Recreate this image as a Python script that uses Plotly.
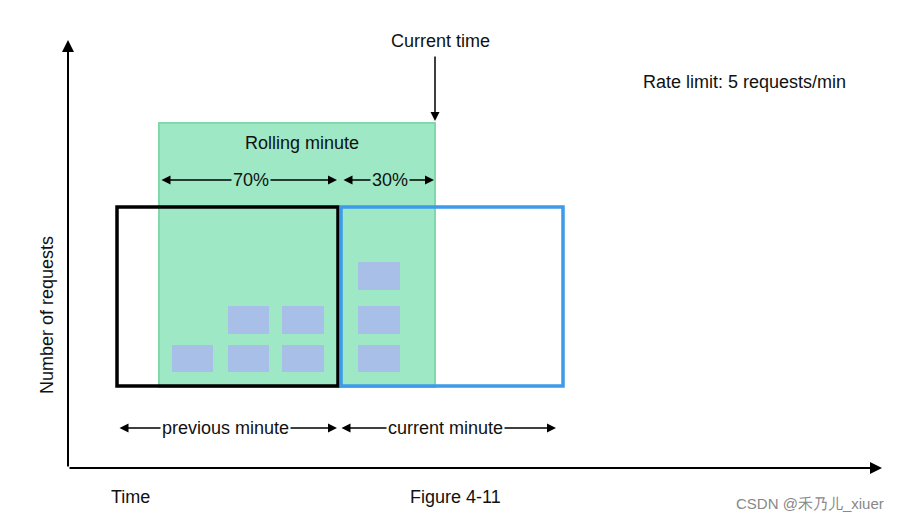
import plotly.graph_objects as go

# request blocks (pixel-space coordinates of the diagram)
req_x0 = [172, 228, 228, 282, 282, 358, 358, 358]
req_x1 = [213, 269, 269, 324, 324, 400, 400, 400]
req_y0 = [345, 306, 345, 306, 345, 262, 306, 345]
req_y1 = [372, 334, 372, 334, 372, 290, 334, 372]

W, H = 918, 523
OFF = 8  # page body margin
fig = go.Figure()
fig.add_trace(go.Scatter(x=[0, W], y=[0, H], mode="markers", marker=dict(opacity=0), hoverinfo="skip", showlegend=False))

shapes = []
shapes.append(dict(type="rect", x0=159, x1=435, y0=123, y1=387, fillcolor="#9ee8c6", line=dict(color="#7fd9ab", width=2), layer="below"))
for a, b, c, d in zip(req_x0, req_x1, req_y0, req_y1):
    shapes.append(dict(type="rect", x0=a, x1=b, y0=c, y1=d, fillcolor="#a8bfe8", line=dict(width=0)))
shapes.append(dict(type="rect", x0=117, x1=338, y0=207, y1=386, line=dict(color="black", width=3.5)))
shapes.append(dict(type="rect", x0=341, x1=563, y0=207, y1=386, line=dict(color="#3d9be9", width=3.5)))
fig.update_layout(shapes=shapes)

ann = []
def arrow(x0, y0, x1, y1, both=False, w=1.5):
    ann.append(dict(x=x1, y=y1, ax=x0, ay=y0, xref="x", yref="y", axref="x", ayref="y", text="",
                    showarrow=True, arrowhead=2, arrowsize=1.2, arrowwidth=w, arrowcolor="black",
                    arrowside="end+start" if both else "end", startarrowhead=2, startarrowsize=1.2))
arrow(68, 468, 68, 40, w=2)
arrow(68, 468, 882, 468, w=2)
arrow(435, 55, 435, 121)
arrow(160, 180, 337, 180, both=True)
arrow(342, 180, 434, 180, both=True)
arrow(118, 428, 337, 428, both=True)
arrow(340, 428, 556, 428, both=True)

def txt(x, y, s, size=18, bg=None, color="#111", angle=0):
    ann.append(dict(x=x, y=y, xref="x", yref="y", text=s, showarrow=False, textangle=angle,
                    font=dict(size=size, color=color, family="Arial"), bgcolor=bg, borderpad=1))
txt(440, 41, "Current time")
txt(744, 82, "Rate limit: 5 requests/min")
txt(302, 143, "Rolling minute")
txt(251, 180, "70%", bg="#9ee8c6")
txt(390, 180, "30%", bg="#9ee8c6")
txt(47, 315, "Number of requests", angle=-90)
txt(225, 428, "previous minute", bg="white")
txt(445, 428, "current minute", bg="white")
txt(130, 497, "Time")
txt(455, 497, "Figure 4-11")
txt(810, 503, "CSDN @禾乃儿_xiuer", size=15, color="#888")

fig.update_layout(annotations=ann, width=W, height=H, margin=dict(l=0, r=0, t=0, b=0),
                  plot_bgcolor="white", paper_bgcolor="white",
                  xaxis=dict(range=[OFF, W + OFF], visible=False, fixedrange=True),
                  yaxis=dict(range=[H + OFF, OFF], visible=False, fixedrange=True))
fig.write_html("out.html")
